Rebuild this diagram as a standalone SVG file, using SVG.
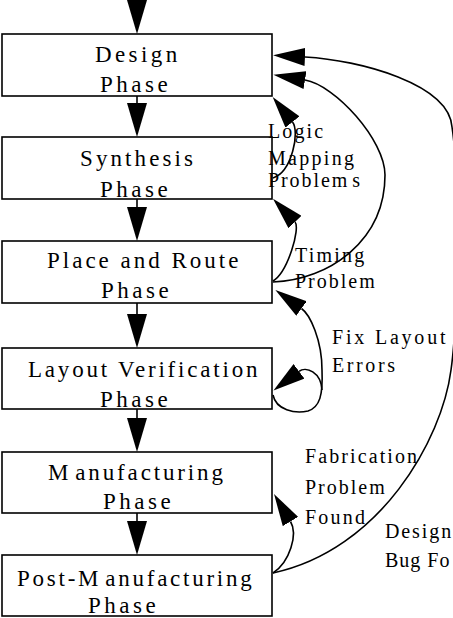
<svg xmlns="http://www.w3.org/2000/svg" width="453" height="618" viewBox="0 0 453 618">
<style>
.box{fill:#fff;stroke:#000;stroke-width:1.6}
.t{font-family:"Liberation Serif","Times New Roman",serif;font-size:23px;fill:#000}
.l{font-family:"Liberation Serif","Times New Roman",serif;font-size:20px;fill:#000}
.c{fill:none;stroke:#000;stroke-width:1.6}
.down{marker-end:url(#hd)}
.side{marker-end:url(#hs)}
</style>
<defs>
<marker id="hd" viewBox="0 0 34 20" refX="0" refY="10" markerWidth="34" markerHeight="20" markerUnits="userSpaceOnUse" orient="auto">
<path d="M0,0 L34,10 L0,20 Z" fill="#000"/>
</marker>
<marker id="hs" viewBox="0 0 32 18" refX="0" refY="9" markerWidth="32" markerHeight="18" markerUnits="userSpaceOnUse" orient="auto">
<path d="M0,0 L32,9 L0,18 Z" fill="#000"/>
</marker>
</defs>
<rect width="453" height="618" fill="#fff"/>

<g id="design">
<rect class="box" x="2" y="34" width="270" height="62"/>
<text class="t" x="95" y="62" letter-spacing="3.4">Design</text>
<text class="t" x="100" y="92" letter-spacing="3.5">Phase</text>
</g>
<g id="synthesis">
<rect class="box" x="2" y="137" width="270" height="62"/>
<text class="t" x="80" y="166" letter-spacing="3.1">Synthesis</text>
<text class="t" x="100" y="197" letter-spacing="3.5">Phase</text>
</g>
<g id="place-route">
<rect class="box" x="2" y="241" width="270" height="62"/>
<text class="t" x="47" y="268" letter-spacing="3.0">Place and Route</text>
<text class="t" x="101" y="298" letter-spacing="3.5">Phase</text>
</g>
<g id="layout-verification">
<rect class="box" x="2" y="348" width="270" height="61"/>
<text class="t" x="28" y="377" letter-spacing="2.8">Layout Verification</text>
<text class="t" x="100" y="407" letter-spacing="3.5">Phase</text>
</g>
<g id="manufacturing">
<rect class="box" x="2" y="452" width="270" height="61"/>
<text class="t" x="48" y="480" letter-spacing="2.85" dx="0 4">Manufacturing</text>
<text class="t" x="103" y="509" letter-spacing="3.5">Phase</text>
</g>
<g id="post-manufacturing">
<rect class="box" x="2" y="555" width="270" height="61"/>
<text class="t" x="17" y="586" letter-spacing="2.75" dx="0 0 0 0 0 0 4">Post-Manufacturing</text>
<text class="t" x="88" y="613" letter-spacing="3.5">Phase</text>
</g>

<g id="connectors">
<path class="c down" d="M137,-8 L137,0"/>
<path class="c down" d="M137,96 L137,103"/>
<path class="c down" d="M137,199 L137,207"/>
<path class="c down" d="M137,303 L137,314"/>
<path class="c down" d="M137,409 L137,418"/>
<path class="c down" d="M137,513 L137,521"/>
<path class="c side" d="M273,178 C292,172 300,131.5 292.5,122"/>
<path class="c side" d="M273,281 C288,272 300.5,227.8 295,222"/>
<path class="c side" d="M273,282 C330,280 385,240 385,175 C385,140 335,85 305,80"/>
<path class="c side" d="M273,395 C276,410 295,414 308,411 C320,407 323,395 322,370 C322,340 310,314.5 301.5,308.5"/>
<path class="c side" d="M322,390 C321,372 306,366 299,371.3"/>
<path class="c side" d="M273,573 C290,562 298,534 290.5,521.5"/>
<path class="c side" d="M273,573 C380,550 442,440 451,370 C458,320 460,180 452,127 C449,84 360,60 305,57"/>
</g>

<g id="edge-labels">
<text class="l" x="268" y="138" letter-spacing="2.1">Logic</text>
<text class="l" x="268" y="165" letter-spacing="2.3">Mapping</text>
<text class="l" x="268" y="187" letter-spacing="1.9" dx="0 0 0 0 0 0 0 3">Problems</text>
<text class="l" x="295" y="262" letter-spacing="2.2">Timing</text>
<text class="l" x="295" y="288" letter-spacing="2.0">Problem</text>
<text class="l" x="332" y="344" letter-spacing="2.8">Fix Layout</text>
<text class="l" x="332" y="372" letter-spacing="2.6">Errors</text>
<text class="l" x="305" y="463" letter-spacing="2.1">Fabrication</text>
<text class="l" x="305" y="494" letter-spacing="2.0">Problem</text>
<text class="l" x="305" y="524" letter-spacing="2.2">Found</text>
<text class="l" x="385" y="538" letter-spacing="1.9">Design</text>
<text class="l" x="385" y="567" letter-spacing="1.0">Bug Fo</text>
</g>
</svg>
